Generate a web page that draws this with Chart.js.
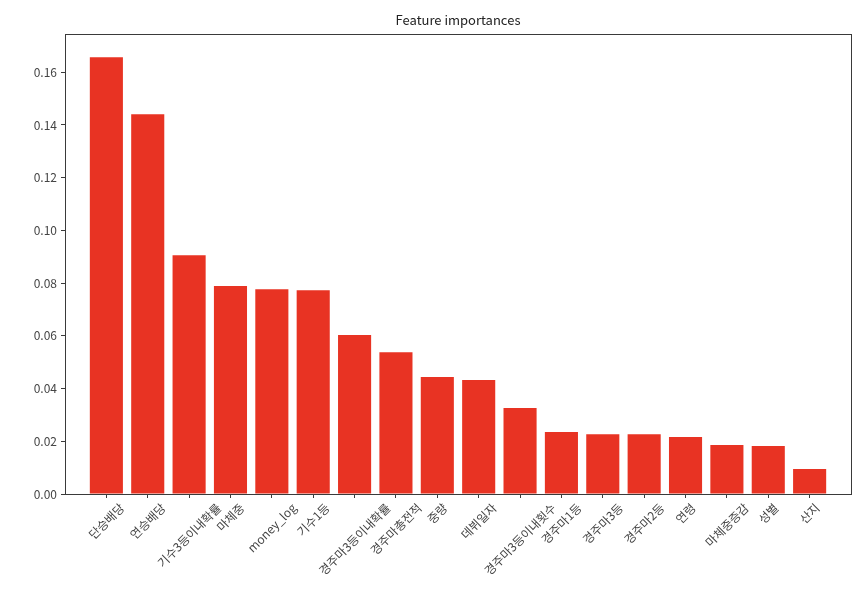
<!DOCTYPE html>
<html>
<head>
<meta charset="utf-8">
<script src="https://cdn.jsdelivr.net/npm/chart.js@4"></script>
<style>
  html, body { margin: 0; padding: 0; background: #fff; }
  #wrap { width: 867px; height: 609px; }
</style>
</head>
<body>
<div id="wrap"><canvas id="chart" width="867" height="609"></canvas></div>
<script>
// 변수 이름
const features = [
  '단승배당', '연승배당', '기수3등이내확률', '마체중', 'money_log', '기수1등',
  '경주마3등이내확률', '경주마총전적', '중량', '데뷔일자', '경주마3등이내횟수',
  '경주마1등', '경주마3등', '경주마2등', '연령', '마체중증감', '성별', '산지'
];
// 중요도 값
const importances = [
  0.1657, 0.1441, 0.0906, 0.0789, 0.0777, 0.0773,
  0.0603, 0.0538, 0.0444, 0.0432, 0.0326,
  0.0235, 0.0227, 0.0227, 0.0216, 0.0186, 0.0182, 0.0095
];
const yTicks = [0, 0.02, 0.04, 0.06, 0.08, 0.10, 0.12, 0.14, 0.16];

const FONT = '"Noto Sans CJK KR", "Noto Sans", sans-serif';
const AXIS = '#3a3a3a';

// 테두리 + 회전된 x 라벨 (matplotlib 처럼 가운데 정렬)
const framePlugin = {
  id: 'frame',
  afterDraw(chart) {
    const { ctx, chartArea: a } = chart;
    const xs = chart.scales.x;
    ctx.save();
    ctx.strokeStyle = AXIS;
    ctx.lineWidth = 1;
    ctx.strokeRect(a.left + 0.5, a.top + 0.5, a.right - a.left, a.bottom - a.top);

    ctx.font = '12px ' + FONT;
    ctx.fillStyle = '#444';
    ctx.textAlign = 'center';
    ctx.textBaseline = 'middle';
    const c = Math.SQRT1_2;
    features.forEach((name, i) => {
      const x = xs.getPixelForValue(i);
      const w = ctx.measureText(name).width;
      const bb = (w + 13) * c;
      ctx.save();
      ctx.translate(x, a.bottom + 7 + bb / 2);
      ctx.rotate(-Math.PI / 4);
      ctx.fillText(name, 0, 0);
      ctx.restore();
    });

    ctx.font = '13px ' + FONT;
    ctx.fillStyle = '#222';
    ctx.textBaseline = 'alphabetic';
    ctx.fillText('Feature importances', (a.left + a.right) / 2, 25);
    ctx.restore();
  }
};

new Chart(document.getElementById('chart'), {
  type: 'bar',
  data: {
    datasets: [{
      data: importances.map((v, i) => ({ x: i, y: v })),
      backgroundColor: '#e83323',
      borderWidth: 0,
      barPercentage: 0.8,
      categoryPercentage: 1.0
    }]
  },
  options: {
    responsive: false,
    animation: false,
    layout: { padding: { top: 34, right: 16, left: 0, bottom: 0 } },
    plugins: { legend: { display: false }, tooltip: { enabled: false }, title: { display: false } },
    scales: {
      x: {
        type: 'linear',
        min: -1,
        max: 18,
        offset: false,
        afterBuildTicks(scale) { scale.ticks = features.map((_, i) => ({ value: i })); },
        afterFit(scale) { scale.height = 115; },
        ticks: { autoSkip: false, callback: () => '', maxRotation: 0 },
        grid: { offset: false, drawOnChartArea: false, drawTicks: true, tickLength: 4, color: AXIS },
        border: { color: AXIS }
      },
      y: {
        min: 0,
        max: 0.1745,
        afterBuildTicks(scale) { scale.ticks = yTicks.map(v => ({ value: v })); },
        afterFit(scale) { scale.width = 65; },
        ticks: {
          callback: v => v.toFixed(2),
          font: { family: FONT, size: 12 },
          color: '#444',
          padding: 4
        },
        grid: { drawOnChartArea: false, drawTicks: true, tickLength: 4, color: AXIS },
        border: { color: AXIS }
      }
    }
  },
  plugins: [framePlugin]
});
</script>
</body>
</html>
